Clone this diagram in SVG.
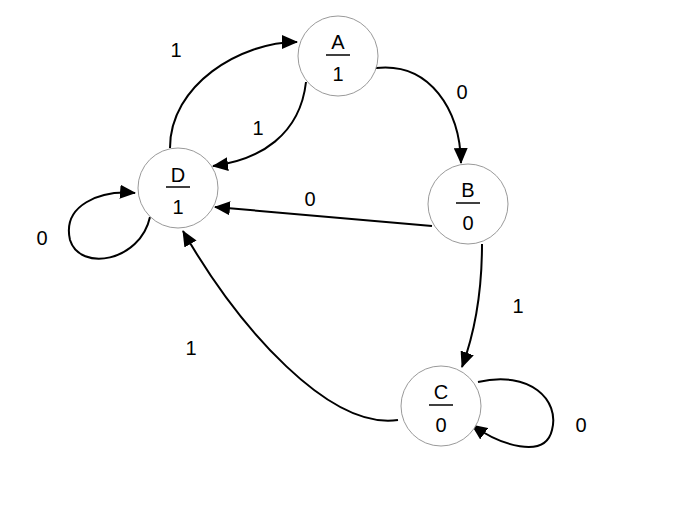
<svg xmlns="http://www.w3.org/2000/svg" width="700" height="531" viewBox="0 0 700 531">
<defs>
<marker id="ah" viewBox="0 0 16 14" refX="15" refY="7" markerWidth="16" markerHeight="14" markerUnits="userSpaceOnUse" orient="auto"><path d="M0,0 L16,7 L0,14 z" fill="#000"/></marker>
<style>
.n{fill:#fff;stroke:#9a9a9a;stroke-width:1}
.t{font-family:"Liberation Sans",Arial,sans-serif;font-size:20px;fill:#000;text-anchor:middle}
.e{fill:none;stroke:#000;stroke-width:2;marker-end:url(#ah)}
.bar{stroke:#000;stroke-width:1.5}
</style>
</defs>
<rect width="700" height="531" fill="#fff"/>
<g id="connectors">
<path class="e" d="M170,148 C170,85 240,42 297,42"/>
<path class="e" d="M306,82 C300,135 260,160 213,166"/>
<path class="e" d="M376,68 C430,62 460,110 461,163"/>
<path class="e" d="M432,226 L215,207"/>
<path class="e" d="M482,244 C482,300 472,340 462,367"/>
<path class="e" d="M398,420 C330,430 240,330 183,231"/>
<path class="e" d="M150,217 C140,262 80,272 70,240 C62,205 100,190 135,193"/>
<path class="e" d="M478,382 C530,370 560,400 552,430 C545,460 500,445 472,425"/>
<text class="t" x="176" y="57">1</text>
<text class="t" x="258" y="135">1</text>
<text class="t" x="462" y="99">0</text>
<text class="t" x="310" y="206">0</text>
<text class="t" x="518" y="313">1</text>
<text class="t" x="191" y="355">1</text>
<text class="t" x="42" y="245">0</text>
<text class="t" x="581" y="432">0</text>
</g>
<g id="A"><circle class="n" cx="338" cy="56" r="40"/><text class="t" x="338" y="49">A</text><line class="bar" x1="326" y1="55" x2="350" y2="55"/><text class="t" x="338" y="81">1</text></g>
<g id="D"><circle class="n" cx="178" cy="188" r="40"/><text class="t" x="178" y="182">D</text><line class="bar" x1="166" y1="187" x2="190" y2="187"/><text class="t" x="178" y="214">1</text></g>
<g id="B"><circle class="n" cx="468" cy="204" r="40"/><text class="t" x="468" y="197">B</text><line class="bar" x1="456" y1="203" x2="480" y2="203"/><text class="t" x="468" y="230">0</text></g>
<g id="C"><circle class="n" cx="441" cy="406" r="40"/><text class="t" x="441" y="399">C</text><line class="bar" x1="429" y1="405" x2="453" y2="405"/><text class="t" x="441" y="432">0</text></g>
</svg>
